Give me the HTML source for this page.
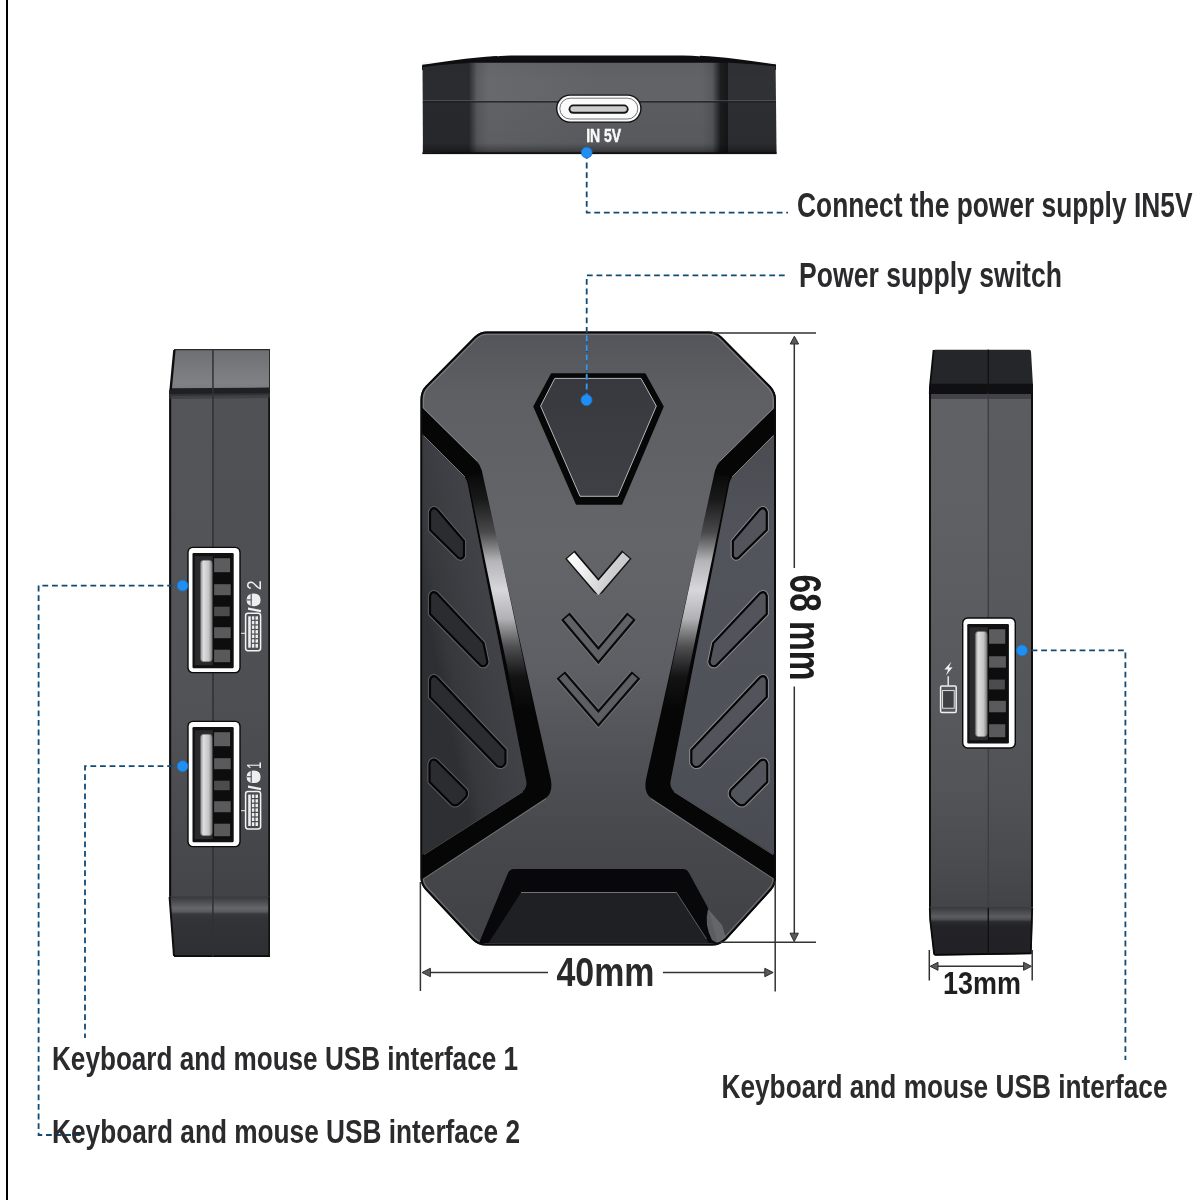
<!DOCTYPE html>
<html lang="en">
<head>
<meta charset="utf-8">
<title>Keyboard and mouse adapter - interface diagram</title>
<style>
html,body{margin:0;padding:0;background:#fff;}
body{width:1200px;height:1200px;overflow:hidden;}
svg{display:block;will-change:transform;}
text{font-family:"Liberation Sans",sans-serif;font-weight:bold;}
.lbl{fill:#2b2b2d;font-size:34.5px;}
.dash{fill:none;stroke:#114a74;stroke-width:1.8;stroke-dasharray:5.8 3.8;}
.dot{fill:#218ff2;stroke:#1677d2;stroke-width:0.8;}
.dim{stroke:#333;stroke-width:1.5;fill:none;}
.arr{fill:#5a5a5a;stroke:#2c2c2c;stroke-width:1;stroke-linejoin:miter;}
</style>
</head>
<body>
<svg width="1200" height="1200" viewBox="0 0 1200 1200">
<defs>

<linearGradient id="tdC" x1="468" x2="728" y1="0" y2="0" gradientUnits="userSpaceOnUse">
 <stop offset="0" stop-color="#26272b"/>
 <stop offset="0.035" stop-color="#5c5d61"/>
 <stop offset="0.08" stop-color="#68696d"/>
 <stop offset="0.5" stop-color="#626367"/>
 <stop offset="0.9" stop-color="#626367"/>
 <stop offset="0.94" stop-color="#58595d"/>
 <stop offset="0.972" stop-color="#1c1d1f"/>
 <stop offset="1" stop-color="#161718"/>
</linearGradient>
<linearGradient id="tdV" x1="0" x2="0" y1="0" y2="1">
 <stop offset="0" stop-color="#000" stop-opacity="0.04"/>
 <stop offset="0.2" stop-color="#000" stop-opacity="0"/>
 <stop offset="0.42" stop-color="#000" stop-opacity="0"/>
 <stop offset="0.43" stop-color="#000" stop-opacity="0.07"/>
 <stop offset="0.88" stop-color="#000" stop-opacity="0.1"/>
 <stop offset="0.96" stop-color="#000" stop-opacity="0.35"/>
 <stop offset="1" stop-color="#000" stop-opacity="0.6"/>
</linearGradient>

<linearGradient id="mdBody" x1="0" x2="0" y1="332" y2="945" gradientUnits="userSpaceOnUse">
 <stop offset="0" stop-color="#54555a"/>
 <stop offset="0.1" stop-color="#5e5f63"/>
 <stop offset="0.34" stop-color="#646569"/>
 <stop offset="0.55" stop-color="#5e5f64"/>
 <stop offset="0.7" stop-color="#505156"/>
 <stop offset="0.83" stop-color="#47484c"/>
 <stop offset="1" stop-color="#404145"/>
</linearGradient>
<linearGradient id="mdLP" x1="423" x2="520" y1="600" y2="580" gradientUnits="userSpaceOnUse">
 <stop offset="0" stop-color="#2e2f33"/>
 <stop offset="0.15" stop-color="#37383c"/>
 <stop offset="0.45" stop-color="#3e3f44"/>
 <stop offset="1" stop-color="#46474b"/>
</linearGradient>
<linearGradient id="mdRP" x1="0" x2="0" y1="433" y2="856" gradientUnits="userSpaceOnUse">
 <stop offset="0" stop-color="#494b51"/>
 <stop offset="0.25" stop-color="#52545b"/>
 <stop offset="0.7" stop-color="#50525a"/>
 <stop offset="1" stop-color="#494b52"/>
</linearGradient>
<linearGradient id="ribHL" x1="0" x2="0" y1="470" y2="710" gradientUnits="userSpaceOnUse">
 <stop offset="0" stop-color="#d0d0d4" stop-opacity="0.0"/>
 <stop offset="0.12" stop-color="#c0c0c4" stop-opacity="0.10"/>
 <stop offset="0.26" stop-color="#c8c8cc" stop-opacity="0.35"/>
 <stop offset="0.38" stop-color="#d4d4d8" stop-opacity="0.85"/>
 <stop offset="0.5" stop-color="#dedee2" stop-opacity="0.97"/>
 <stop offset="0.62" stop-color="#d0d0d4" stop-opacity="0.85"/>
 <stop offset="0.74" stop-color="#b8b8bc" stop-opacity="0.4"/>
 <stop offset="0.86" stop-color="#b0b0b4" stop-opacity="0.08"/>
 <stop offset="1" stop-color="#b0b0b4" stop-opacity="0"/>
</linearGradient>
<linearGradient id="chevW" x1="566" x2="630" y1="552" y2="580" gradientUnits="userSpaceOnUse">
 <stop offset="0" stop-color="#ffffff"/>
 <stop offset="0.35" stop-color="#f0f0f0"/>
 <stop offset="0.7" stop-color="#cfcfd1"/>
 <stop offset="1" stop-color="#c4c4c6"/>
</linearGradient>
<g id="ribL">
 <path d="M421.5 407 L476.5 461 Q480.5 465 481.8 470.5 L550.5 778 Q553.6 792 546 797.8 L421.5 879.5 L421.5 855.5 L521 792.6 Q528 788 526 780 L468 486 Q467 479 462 474 L421.5 433 Z" fill="#060607"/>
</g>
<g id="ventsL" stroke-linejoin="round">
 <path id="v1" d="M430 512 L430 530 L458.5 558 Q462 560 464 556 L464 541 L437 509.5 Q432 506 430 512 Z"/>
 <path id="v2" d="M430 596 L430 614 L480.5 665.5 Q486 668 487.5 662 L483.5 643 L437 593.5 Q431.5 590 430 596 Z"/>
 <path id="v3" d="M430 680 L430 697 L497 766 Q503 769 505.5 763 L505.5 750 L437 677.5 Q431.5 674 430 680 Z"/>
 <path id="v4" d="M429.5 764 L429.5 782 L452 804.5 Q456 807 460 803 L466 797 Q468 794 466 790 L436.5 760.5 Q431 757.5 429.5 764 Z"/>
</g>
<path id="mdOutline" d="M487 332.5 L709 332.5 Q716 332.5 721 337.5 L770 387 Q775 392.5 775 400 L775 878 Q775 884 771 889 L726 938.5 Q720 944.5 712 944.5 L486 944.5 Q478 944.5 472.5 938.5 L426 889 Q421.5 884 421.5 878 L421.5 400 Q421.5 391.5 426.5 386.5 L475 337.5 Q480 332.5 487 332.5 Z"/>

<linearGradient id="tongue" x1="0" x2="1" y1="0" y2="0">
 <stop offset="0" stop-color="#8e8e8e"/>
 <stop offset="0.25" stop-color="#dedede"/>
 <stop offset="0.7" stop-color="#c4c4c4"/>
 <stop offset="1" stop-color="#7e7e7e"/>
</linearGradient>
<g id="usbA">
 <rect x="0" y="0" width="53.4" height="126.6" rx="5.5" fill="#0b0b0c"/>
 <rect x="1.4" y="1.4" width="50.6" height="123.8" rx="4.3" fill="#fdfdfd"/>
 <rect x="5.2" y="6.4" width="41.2" height="115.2" rx="1.2" fill="#111112"/>
 <rect x="7.5" y="9.5" width="36.5" height="109" fill="#2a2a2c"/>
 <rect x="25.5" y="9.5" width="20" height="109" fill="#0d0d0e"/>
 <rect x="26.8" y="11.5" width="16" height="14" fill="#5c5c5e"/>
 <rect x="26.8" y="37.5" width="16.6" height="11" fill="#5a5a5c"/>
 <rect x="26.8" y="60" width="15.6" height="9.5" fill="#4c4c4e"/>
 <rect x="26.8" y="80.5" width="16.6" height="11" fill="#5a5a5c"/>
 <rect x="26.8" y="103" width="16" height="12.5" fill="#59595b"/>
 <rect x="13.2" y="13.6" width="11.6" height="101.4" rx="3.2" fill="url(#tongue)" stroke="#6d6d6d" stroke-width="0.6"/>
</g>
<g id="kbIcon">
 <rect x="0" y="0" width="15" height="37.4" rx="2.4" fill="none" stroke="#f2f2f2" stroke-width="1.5"/>
 <g fill="#ededed">
  <rect x="2.6" y="3" width="2.6" height="31.4"/>
  <rect x="6.3" y="3" width="2.4" height="3.4"/><rect x="6.3" y="7.6" width="2.4" height="3.4"/><rect x="6.3" y="12.2" width="2.4" height="3.4"/><rect x="6.3" y="16.8" width="2.4" height="3.4"/><rect x="6.3" y="21.4" width="2.4" height="3.4"/><rect x="6.3" y="26" width="2.4" height="3.4"/><rect x="6.3" y="30.6" width="2.4" height="3.8"/>
  <rect x="9.9" y="3" width="2.5" height="3.4"/><rect x="9.9" y="7.6" width="2.5" height="3.4"/><rect x="9.9" y="12.2" width="2.5" height="3.4"/><rect x="9.9" y="16.8" width="2.5" height="3.4"/><rect x="9.9" y="21.4" width="2.5" height="3.4"/><rect x="9.9" y="26" width="2.5" height="3.4"/><rect x="9.9" y="30.6" width="2.5" height="3.8"/>
 </g>
</g>
<g id="mouseIcon">
 <path d="M0 6.5 Q0 0 7 0 Q14 0 14 6.5 Q14 12.6 7 12.6 Q0 12.6 0 6.5 Z" fill="#eeeeee"/>
 <path d="M4.6 0.4 L4.6 12.2" stroke="#4b4c50" stroke-width="1.1"/>
 <path d="M4.6 6.3 L0.3 6.3" stroke="#4b4c50" stroke-width="1.1"/>
</g>

<linearGradient id="rdBodyL" x1="0" x2="0" y1="392" y2="910" gradientUnits="userSpaceOnUse">
 <stop offset="0" stop-color="#606165"/>
 <stop offset="0.25" stop-color="#5f6064"/>
 <stop offset="0.5" stop-color="#595a5e"/>
 <stop offset="0.75" stop-color="#545559"/>
 <stop offset="0.9" stop-color="#4b4c50"/>
 <stop offset="1" stop-color="#434448"/>
</linearGradient>
<linearGradient id="rdBodyR" x1="0" x2="0" y1="392" y2="910" gradientUnits="userSpaceOnUse">
 <stop offset="0" stop-color="#5b5c60"/>
 <stop offset="0.25" stop-color="#5a5b5f"/>
 <stop offset="0.5" stop-color="#56575b"/>
 <stop offset="0.75" stop-color="#525357"/>
 <stop offset="0.9" stop-color="#4a4b4f"/>
 <stop offset="1" stop-color="#424347"/>
</linearGradient>
<linearGradient id="ldBodyL" x1="0" x2="0" y1="392" y2="900" gradientUnits="userSpaceOnUse">
 <stop offset="0" stop-color="#545559"/>
 <stop offset="0.6" stop-color="#525357"/>
 <stop offset="0.85" stop-color="#4a4b4f"/>
 <stop offset="1" stop-color="#444549"/>
</linearGradient>
<linearGradient id="ldBodyR" x1="0" x2="0" y1="392" y2="900" gradientUnits="userSpaceOnUse">
 <stop offset="0" stop-color="#505155"/>
 <stop offset="0.6" stop-color="#4e4f53"/>
 <stop offset="0.85" stop-color="#47484c"/>
 <stop offset="1" stop-color="#414246"/>
</linearGradient>
<linearGradient id="ldCap" x1="0" x2="0" y1="349" y2="392" gradientUnits="userSpaceOnUse">
 <stop offset="0" stop-color="#6e6f73"/>
 <stop offset="0.8" stop-color="#808185"/>
 <stop offset="1" stop-color="#77787c"/>
</linearGradient>
<clipPath id="mdClip"><use href="#mdOutline"/></clipPath>
<linearGradient id="ldBot" x1="0" x2="0" y1="896.5" y2="957" gradientUnits="userSpaceOnUse">
 <stop offset="0" stop-color="#37383c"/>
 <stop offset="0.09" stop-color="#4c4d51"/>
 <stop offset="0.19" stop-color="#66676b"/>
 <stop offset="0.25" stop-color="#5a5b5f"/>
 <stop offset="0.29" stop-color="#38393d"/>
 <stop offset="0.4" stop-color="#323337"/>
 <stop offset="1" stop-color="#2e2f33"/>
</linearGradient>
<linearGradient id="rdBot" x1="0" x2="0" y1="907" y2="956" gradientUnits="userSpaceOnUse">
 <stop offset="0" stop-color="#38393d"/>
 <stop offset="0.1" stop-color="#4a4b4f"/>
 <stop offset="0.2" stop-color="#5c5d61"/>
 <stop offset="0.26" stop-color="#4a4b4f"/>
 <stop offset="0.3" stop-color="#2a2b2e"/>
 <stop offset="0.4" stop-color="#232327"/>
 <stop offset="1" stop-color="#222226"/>
</linearGradient>
<linearGradient id="pbFill" x1="0" x2="0" y1="378" y2="497" gradientUnits="userSpaceOnUse">
 <stop offset="0" stop-color="#38393e"/>
 <stop offset="1" stop-color="#3f4045"/>
</linearGradient>
<!--DEFS-->
</defs>
<rect width="1200" height="1200" fill="#fff"/>
<rect x="6" y="0" width="2" height="1200" fill="#000"/>


<g id="topdev">
 <!-- black top slab -->
 <path d="M422 66 C450 62 490 56 513 55.5 L683 55.5 C710 56 750 62 776 65.5 L776 70 L422 70 Z" fill="#0e0e10"/>
 <!-- side dark blocks -->
 <path d="M422.5 65.4 L470 61 L470 153.5 L423 152.5 Z" fill="#2b2c30"/>
 <path d="M497 55.9 C467 57.6 443 61.8 422.2 64.8 L422.2 67.2 C443 64.4 467 62.4 497 61.9 Z" fill="#0e0e10"/>
 <path d="M728 60.5 L775.6 64.6 L776.5 153 L728 153.5 Z" fill="#303135"/>
 <path d="M700 55.8 C730 57.5 755 61.5 776 64.4 L776 66.6 C755 64 730 62.2 700 61.8 Z" fill="#0e0e10"/>
 <!-- center -->
 <path d="M468 62.8 L728 62.8 L728 153.8 L468 153.8 Z" fill="url(#tdC)"/>
 <path d="M422.5 62 L776.5 62 L776.5 154 L422.5 154 Z" fill="url(#tdV)"/>
 <!-- seam -->
 <rect x="423" y="100.2" width="353" height="1" fill="#6d6e72" opacity="0.6"/>
 <rect x="423" y="101.2" width="353" height="1.3" fill="#1d1e20"/>
 <rect x="422.5" y="152.3" width="354" height="1.8" fill="#0f0f10"/>
 <!-- usb-c -->
 <rect x="556" y="94.4" width="85.6" height="28.4" rx="14.2" fill="#131314"/>
 <rect x="557.4" y="95.8" width="82.8" height="25.6" rx="12.8" fill="#fbfbfb"/>
 <rect x="559.8" y="98.2" width="78" height="20.8" rx="10.4" fill="none" stroke="#3a3a3a" stroke-width="0.7"/>
 <rect x="568.6" y="104.6" width="60" height="9.2" rx="4.6" fill="#161617"/>
 <rect x="570.4" y="106.2" width="56.4" height="5.6" rx="2.8" fill="#cdcdcd"/>
 <text x="603.7" y="142.3" text-anchor="middle" textLength="35" lengthAdjust="spacingAndGlyphs" style="font-size:17.8px;fill:#fafafa;stroke:#fafafa;stroke-width:0.45">IN 5V</text>
</g>



<g id="maindev">
 <!-- body -->
 <use href="#mdOutline" fill="url(#mdBody)" stroke="#0b0b0c" stroke-width="2"/>
 <use href="#mdOutline" fill="none" stroke="#a4a5a9" stroke-width="5" opacity="0.4" clip-path="url(#mdClip)"/>
 <!-- side panels -->
 <path d="M422.5 433 L462 474 Q467 479 468 486 L526 780 Q528 788 521 792.6 L422.5 856 Z" fill="url(#mdLP)"/>
 <path d="M422.5 433 L462 474 Q467 479 468 486 L526 780 Q528 788 521 792.6 L422.5 856 Z" fill="url(#mdRP)" transform="translate(1196.8 0) scale(-1 1)"/>
 <!-- vents -->
 <use href="#ventsL" fill="#2a2b2f" stroke="#7a7b80" stroke-width="4.2" opacity="0.6"/>
 <use href="#ventsL" fill="#2b2c30" stroke="#050506" stroke-width="2.2"/>
 <g transform="translate(1196.8 0) scale(-1 1)">
  <use href="#ventsL" fill="none" stroke="#a2a3a8" stroke-width="4.2" opacity="0.7"/>
  <use href="#ventsL" fill="#52545b" stroke="#050506" stroke-width="2.2"/>
 </g>
 <!-- ribs -->
 <use href="#ribL"/>
 <use href="#ribL" transform="translate(1196.8 0) scale(-1 1)"/>
 <path d="M467.4 476 L483.2 474 L534.6 712 L516.6 712 Z" fill="url(#ribHL)"/>
 <path d="M467.4 476 L483.2 474 L534.6 712 L516.6 712 Z" fill="url(#ribHL)" transform="translate(1196.8 0) scale(-1 1)"/>
 <!-- rib corner soft highlights -->
 <path d="M424 408.6 L477 461" stroke="#b0b1b5" stroke-width="1" fill="none" opacity="0.55"/>
 <path d="M773 408.6 L720 461" stroke="#b0b1b5" stroke-width="1" fill="none" opacity="0.55"/>
 <path d="M424 878.6 L546 798.8" stroke="#9a9b9f" stroke-width="1" fill="none" opacity="0.5"/>
 <path d="M773 878.6 L651 798.8" stroke="#9a9b9f" stroke-width="1" fill="none" opacity="0.5"/>
 <path d="M465 477 L424 436" stroke="#8d8e92" stroke-width="1" fill="none" opacity="0.7"/>
 <path d="M523 791.6 L424 854.6" stroke="#77787c" stroke-width="1" fill="none" opacity="0.6"/>
 <path d="M732 477 L773 436" stroke="#9a9b9f" stroke-width="1" fill="none" opacity="0.7"/>
 <path d="M673.8 791.6 L773 854.6" stroke="#8a8b8f" stroke-width="1" fill="none" opacity="0.6"/>
 <!-- power button -->
 <path d="M551.5 374 L645 374 L663 406.5 L621.5 504 L576.5 504 L534 406.5 Z" fill="#070708" stroke="#070708" stroke-width="1.5" stroke-linejoin="round"/>
 <path d="M554.8 378.4 L641 378.4 L656.3 406 L617.8 496.3 L580 496.3 L540.6 406 Z" fill="url(#pbFill)" stroke="#b6b7bb" stroke-width="1" stroke-linejoin="round"/>
 <!-- chevrons -->
 <path d="M570 554.7 L598.4 588 L626.8 554.7" fill="none" stroke="#121213" stroke-width="12.6" stroke-linecap="butt" stroke-linejoin="round"/>
 <path d="M570.6 555.6 L598.4 588 L626.2 555.6" fill="none" stroke="url(#chevW)" stroke-width="9.4" stroke-linecap="butt" stroke-linejoin="miter"/>
 <g fill="none" stroke-linejoin="miter">
  <path d="M565.4 616.3 L598.4 655.4 L631.4 616.3" stroke="#9d9ea2" stroke-width="13.4" opacity="0.35"/>
  <path d="M565.4 616.3 L598.4 655.4 L631.4 616.3" stroke="#0a0a0b" stroke-width="11.4"/>
  <path d="M566.5 617.6 L598.4 655.4 L630.3 617.6" stroke="#606166" stroke-width="7"/>
  <path d="M560.8 675 L598.4 718.3 L636 675" stroke="#9d9ea2" stroke-width="13.4" opacity="0.35"/>
  <path d="M560.8 675 L598.4 718.3 L636 675" stroke="#0a0a0b" stroke-width="11.4"/>
  <path d="M561.9 676.3 L598.4 718.3 L634.9 676.3" stroke="#5d5e63" stroke-width="7"/>
 </g>
 <!-- bottom trapezoid -->
 <path d="M514 869 L683 869 Q687 869 689 873 L707 906 Q709 910 710 914 L717.5 943 L479 943 L508 873 Q510 869 514 869 Z" fill="#08080a"/>
 <path d="M521 892.5 L676.5 892.5 L706.5 939 L709 943 L488.5 943 Z" fill="#1f2023"/>
 <path d="M521 892.5 L676.5 892.5" stroke="#9a9b9f" stroke-width="0.9" opacity="0.8"/>
 <path d="M676.5 892.5 L706.5 939" stroke="#77787c" stroke-width="0.9" opacity="0.8"/>
 <path d="M708 909 Q704 925 712 940 L717 943 L726 938 L722 925 Z" fill="#6b6c70" opacity="0.85"/>
 <use href="#mdOutline" fill="none" stroke="#0b0b0c" stroke-width="2"/>
</g>



<g id="leftdev">
 <!-- body -->
 <path d="M169.2 390 L270 390 L270 900 L169.2 900 Z" fill="url(#ldBodyL)"/>
 <path d="M213 390 L270 390 L270 900 L213 900 Z" fill="url(#ldBodyR)"/>
 <rect x="169.2" y="390" width="2" height="510" fill="#0e0e0f"/>
 <rect x="268.2" y="390" width="1.8" height="510" fill="#141415"/>
 <!-- top cap -->
 <path d="M173.6 350.4 Q173.8 349.2 175.4 349.2 L268.8 349.2 Q270 349.2 270 350.6 L270 388.5 L170 390.2 L171.6 384 Z" fill="url(#ldCap)"/>
 <path d="M170 388.2 L270 387.6 L270 395 L169.4 396 Z" fill="#1f2023"/>
 <path d="M169.4 394 L270 393.2 L270 398 L169.4 399 Z" fill="#3a3b3f" opacity="0.7"/>
 <path d="M174.4 350 L170.6 390" stroke="#0d0d0e" stroke-width="2.4" fill="none"/>
 <path d="M174 349.7 L270 349.7" stroke="#2a2a2c" stroke-width="1.2" fill="none"/>
 <path d="M269.5 350 L269.5 390" stroke="#2a2a2c" stroke-width="1" fill="none"/>
 <!-- bottom cap -->
 <path d="M169.2 896.5 L270 896.5 L270 956.8 L175.5 956.8 Q174 956.8 173.8 955 Z" fill="url(#ldBot)"/>
 <path d="M169.6 897 L174 956" stroke="#0f0f10" stroke-width="2" fill="none"/>
 <rect x="268.2" y="897" width="1.8" height="60" fill="#141415"/>
 <rect x="174" y="955.2" width="96" height="1.8" fill="#0c0c0d"/>
 <!-- seam -->
 <rect x="212.2" y="349" width="1.5" height="607.6" fill="#303135"/>
 <!-- ports -->
 <use href="#usbA" x="187.3" y="546.7"/>
 <use href="#usbA" x="187.3" y="720.7"/>
 <!-- port labels -->
 <use href="#kbIcon" x="245.6" y="613.3"/>
 <path d="M241 633.3 L245.5 633.3" stroke="#eee" stroke-width="1"/>
 <use href="#mouseIcon" x="246.6" y="593.6"/>
 <text transform="translate(261 612.6) rotate(-90)" style="font-size:18px;fill:#efefef" textLength="5.2" lengthAdjust="spacingAndGlyphs">/</text>
 <text transform="translate(261.2 590) rotate(-90)" style="font-size:21px;fill:#efefef;font-weight:normal" textLength="9.6" lengthAdjust="spacingAndGlyphs">2</text>
 <use href="#kbIcon" x="245.6" y="791.6"/>
 <path d="M241 810.7 L245.5 810.7" stroke="#eee" stroke-width="1"/>
 <use href="#mouseIcon" x="246.6" y="770.4"/>
 <text transform="translate(261 790.6) rotate(-90)" style="font-size:18px;fill:#efefef" textLength="5.2" lengthAdjust="spacingAndGlyphs">/</text>
 <text transform="translate(261.2 769) rotate(-90)" style="font-size:21px;fill:#efefef;font-weight:normal" textLength="7" lengthAdjust="spacingAndGlyphs">1</text>
</g>



<g id="rightdev">
 <path d="M929 388 L1033 388 L1033 910 L929.4 910 Z" fill="url(#rdBodyL)"/>
 <path d="M988.4 388 L1033 388 L1033 910 L988.4 910 Z" fill="url(#rdBodyR)"/>
 <rect x="929" y="388" width="2" height="522" fill="#0e0e0f"/>
 <rect x="1031" y="388" width="2" height="522" fill="#0e0e0f"/>
 <!-- top cap -->
 <path d="M933.3 351.5 Q933.3 349.8 935 349.8 L1029.4 349.8 Q1030.8 349.8 1031 351.5 L1033 386 L1033 394 L929 394 L930 386 Z" fill="#25262a"/>
 <path d="M930 383.8 L1033 383.8 L1033 394 L929 394 Z" fill="#101012"/>
 <path d="M931 394 L1031 394 L1031 399 L931 399 Z" fill="#3a3b3f" opacity="0.75"/>
 <path d="M933.6 350 L930 386 L929.8 394" stroke="#0b0b0c" stroke-width="1.8" fill="none"/>
 <!-- bottom cap -->
 <path d="M929.4 907 L1033 907 L1031.4 954 L936 955.4 Q934 955.4 933.6 953.4 L929.8 920 Z" fill="url(#rdBot)"/>
 <path d="M929.8 908 L930.2 920 L934.2 954.6" stroke="#0b0b0c" stroke-width="1.8" fill="none"/>
 <path d="M1032.2 908 L1030.8 954" stroke="#0b0b0c" stroke-width="1.8" fill="none"/>
 <path d="M934.5 954.9 L1031.2 953.4" stroke="#070708" stroke-width="1.8" fill="none"/>
 <!-- seam -->
 <rect x="987.6" y="392" width="1.4" height="516" fill="#3d3e42"/>
 <rect x="987.6" y="349.6" width="1.4" height="44" fill="#121213"/>
 <rect x="987.6" y="908" width="1.4" height="47" fill="#121213"/>
 <!-- port -->
 <use href="#usbA" transform="translate(962 617.3) scale(1.011 1.038)"/>
 <!-- phone / lightning icon -->
 <rect x="940.6" y="686" width="15.6" height="26.4" rx="1.2" fill="none" stroke="#f0f0f0" stroke-width="1.5"/>
 <rect x="942.6" y="690.6" width="11.6" height="17.6" fill="#3f4044" stroke="#f0f0f0" stroke-width="0.9"/>
 <path d="M948.2 685.4 L948.2 676.2" stroke="#f0f0f0" stroke-width="1.4"/>
 <path d="M951.4 661.8 L944.4 669.6 L948.2 669.4 L946 675.4 L952.6 667.2 L948.8 667.6 Z" fill="#f4f4f4"/>
</g>



<g id="dims">
 <!-- 68 mm -->
 <path class="dim" d="M712 332.9 L816 332.9 M720 942.2 L816 942.2 M794.3 340 L794.3 568 M794.3 686.6 L794.3 938"/>
 <path class="arr" d="M794.4 336.2 L798.6 344 L790.2 344 Z M794.2 941.6 L798.4 933.2 L790 933.2 Z"/>
 <text transform="translate(790.3 574.6) rotate(90)" style="font-size:44px;fill:#1d1d1d" textLength="106" lengthAdjust="spacingAndGlyphs">68 mm</text>
 <!-- 40mm -->
 <path class="dim" d="M420.4 882 L420.4 991 M775.2 882 L775.2 991.6 M426 972.5 L548 972.5 M663 972.5 L769 972.5"/>
 <path class="arr" d="M422 972.5 L430.4 968.3 L430.4 976.7 Z M773.2 972.5 L764.8 968.3 L764.8 976.7 Z"/>
 <text x="556.5" y="985.8" style="font-size:40.4px;fill:#2a2a2a" textLength="98" lengthAdjust="spacingAndGlyphs">40mm</text>
 <!-- 13mm -->
 <path class="dim" d="M929.3 950 L929.3 980.5 M1032.2 950 L1032.2 980.5 M934 966.3 L1028 966.3"/>
 <path class="arr" d="M930.2 966.3 L938 962.3 L938 970.3 Z M1031.4 966.3 L1023.6 962.3 L1023.6 970.3 Z"/>
 <text x="943" y="993.7" style="font-size:32.2px;fill:#1f1f1f" textLength="78" lengthAdjust="spacingAndGlyphs">13mm</text>
</g>



<g id="leaders">
 <path class="dash" d="M586.7 153 L586.7 212.6 L788 212.6"/>
 <circle class="dot" cx="586.7" cy="152.6" r="5.4"/>
 <path class="dash" d="M586.7 400 L586.7 275.4 L788 275.4"/>
 <path d="M586.7 399 L586.7 334" fill="none" stroke="#3c97ea" stroke-width="1.8" stroke-dasharray="5.8 3.8"/>
 <circle class="dot" cx="586.5" cy="400" r="5.5"/>
 <path class="dash" d="M182.6 585.6 L38.6 585.6 L38.6 1135 L82 1135"/>
 <circle class="dot" cx="182.6" cy="585.6" r="5.4"/>
 <path class="dash" d="M182.6 766.2 L85 766.2 L85 1038"/>
 <circle class="dot" cx="182.6" cy="766.2" r="5.4"/>
 <path class="dash" d="M1022 650.4 L1125.4 650.4 L1125.4 1060"/>
 <circle class="dot" cx="1022" cy="650.4" r="5.4"/>
</g>


<!--LABELS-->
<text class="lbl" x="797" y="216.7" textLength="395.5" lengthAdjust="spacingAndGlyphs">Connect the power supply IN5V</text>
<text class="lbl" x="799" y="286.7" textLength="263" lengthAdjust="spacingAndGlyphs">Power supply switch</text>
<text class="lbl" x="52" y="1070" textLength="466" lengthAdjust="spacingAndGlyphs" style="font-size:33px">Keyboard and mouse USB interface 1</text>
<text class="lbl" x="52" y="1142.5" textLength="468" lengthAdjust="spacingAndGlyphs" style="font-size:33px">Keyboard and mouse USB interface 2</text>
<text class="lbl" x="721.5" y="1097.5" textLength="446" lengthAdjust="spacingAndGlyphs" style="font-size:33px">Keyboard and mouse USB interface</text>
</svg>
</body>
</html>
